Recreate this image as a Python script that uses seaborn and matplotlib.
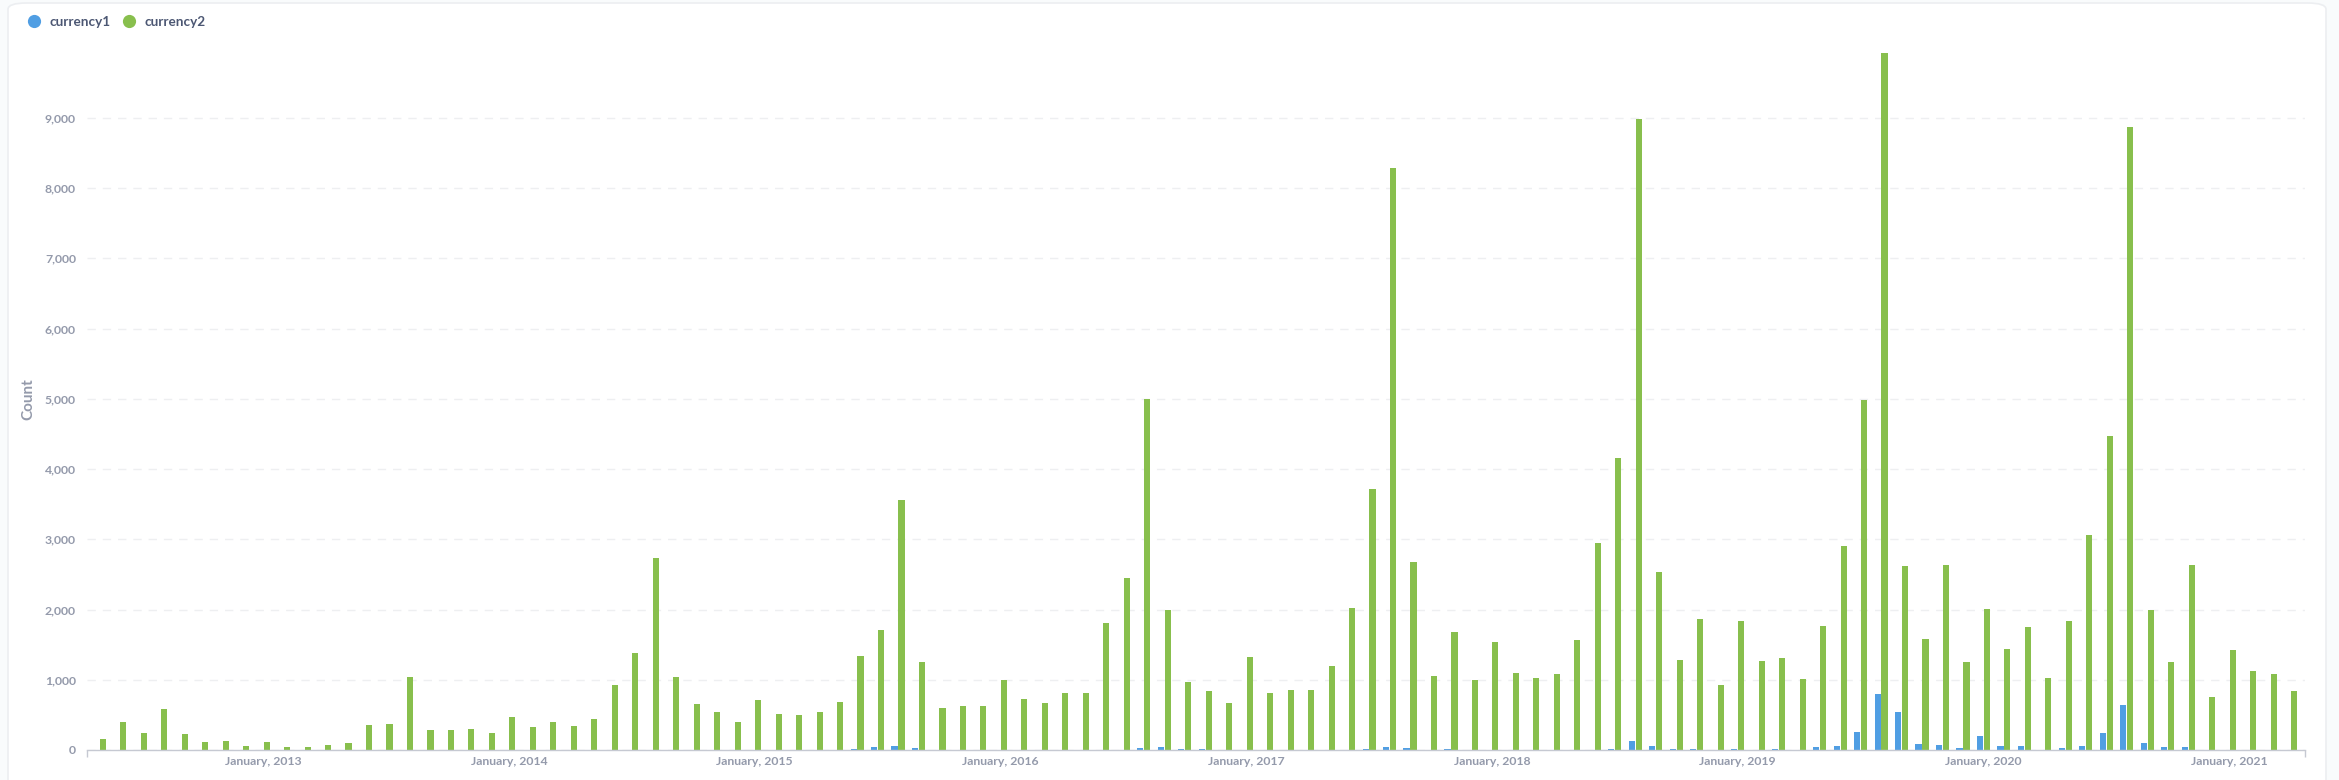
import pandas as pd
import numpy as np
import matplotlib.pyplot as plt
import seaborn as sns
from matplotlib.lines import Line2D
from matplotlib.patches import FancyBboxPatch

# monthly counts, May 2012 .. April 2021
months = pd.date_range('2012-05-01', '2021-04-01', freq='MS')

currency2 = [
    162, 405, 248, 590, 233, 119, 133, 62,
    119, 48, 48, 76, 105, 362, 376, 1033, 290, 290, 305, 248,
    476, 333, 405, 348, 448, 919, 1376, 2740, 1033, 662, 548, 405,
    705, 519, 505, 548, 690, 1333, 1705, 3560, 1248, 605, 633, 633,
    990, 719, 676, 805, 805, 1805, 2450, 5000, 1990, 962, 833, 676,
    1319, 805, 848, 848, 1190, 2019, 3720, 8280, 2670, 1048, 1676, 990,
    1533, 1090, 1019, 1076, 1562, 2940, 4160, 8980, 2530, 1276, 1862, 919,
    1833, 1262, 1305, 1005, 1762, 2900, 4980, 9930, 2620, 1576, 2630, 1248,
    2005, 1433, 1748, 1019, 1833, 3060, 4470, 8870, 1990, 1248, 2630, 748,
    1419, 1119, 1076, 833,
]
currency1 = [
    0, 0, 0, 0, 0, 0, 0, 0,
    0, 0, 0, 0, 0, 0, 0, 0, 0, 0, 0, 0,
    0, 0, 0, 0, 0, 0, 0, 0, 0, 0, 0, 0,
    0, 0, 0, 3, 3, 19, 48, 62, 33, 3, 3, 3,
    3, 3, 3, 3, 3, 3, 3, 33, 48, 19, 10, 3,
    3, 3, 3, 3, 3, 3, 19, 48, 33, 4, 19, 3,
    3, 3, 3, 3, 3, 3, 19, 133, 62, 19, 19, 3,
    19, 3, 19, 3, 48, 62, 262, 800, 540, 90, 76, 33,
    200, 62, 62, 3, 33, 62, 248, 640, 105, 48, 48, 3,
    0, 0, 0, 0,
]
series = ['currency1', 'currency2']
colors = {'currency1': '#509EE3', 'currency2': '#88BF4D'}
y_ticks = list(range(0, 10000, 1000))

df = pd.DataFrame({
    'month': np.tile(months.strftime('%Y-%m'), 2),
    'currency': np.repeat(series, len(months)),
    'count': currency1 + currency2,
})

W, H, DPI = 2339, 780, 100
fig = plt.figure(figsize=(W / DPI, H / DPI), dpi=DPI)
fig.patch.set_facecolor('#f9fbfc')
card = FancyBboxPatch((8 / W, -0.05), 2318 / W, 1.05 - 3 / H,
                      boxstyle='round,pad=0,rounding_size=0.008',
                      transform=fig.transFigure, facecolor='white',
                      edgecolor='#eceef1', linewidth=1.2, zorder=-10)
fig.patches.append(card)

ax = fig.add_axes([87 / W, 1 - 750 / H, (2305 - 87) / W, (750 - 47.6) / H])
ax.set_facecolor('none')

sns.barplot(data=df, x='month', y='count', hue='currency', hue_order=series,
            palette=colors, saturation=1, width=0.68, gap=0.12, linewidth=0,
            errorbar=None, legend=False, ax=ax, zorder=3)

grey = '#949aab'
ax.set_ylim(0, 10000)
ax.set_xlim(-0.6, len(months) - 0.3)
ax.set_yticks(y_ticks, [f'{v:,}' for v in y_ticks])
jan = [i for i, m in enumerate(months) if m.month == 1]
ax.set_xticks(jan, [months[i].strftime('January, %Y') for i in jan])
ax.set_xticks([-0.6, len(months) - 0.3], minor=True)

for t in ax.get_yticklabels() + ax.get_xticklabels():
    t.set_fontfamily('Lato')
    t.set_fontweight('bold')
    t.set_fontsize(8.8)
    t.set_color(grey)
ax.tick_params(axis='y', length=0, pad=8)
ax.tick_params(axis='x', which='major', length=0, pad=4)
ax.tick_params(axis='x', which='minor', length=5, width=1, color='#c6c9d2')

ax.grid(axis='y', linestyle=(0, (6, 5)), color='#eeeff1', linewidth=1, zorder=0)
ax.grid(axis='x', visible=False)
ax.set_axisbelow(True)
for s in ['top', 'right', 'left']:
    ax.spines[s].set_visible(False)
ax.spines['bottom'].set_color('#c6c9d2')
ax.spines['bottom'].set_linewidth(1)
ax.spines['bottom'].set_zorder(4)

ax.set_xlabel('')
ax.set_ylabel('Count', fontfamily='Lato', fontweight='bold', fontsize=11, color=grey)
ax.yaxis.set_label_coords((35 - 87) / (2305 - 87), 0.5)

handles = [Line2D([], [], marker='o', linestyle='', markersize=9.5,
                  markerfacecolor=colors[s], markeredgewidth=0) for s in series]
leg = fig.legend(handles, series, loc='center left',
                 bbox_to_anchor=(27.5 / W, 1 - 22 / H), frameon=False, ncol=2,
                 handlelength=1.0, handletextpad=0.65, columnspacing=0.85,
                 borderaxespad=0, borderpad=0,
                 prop={'family': 'Lato', 'weight': 'bold', 'size': 9.7})
for t in leg.get_texts():
    t.set_color('#4c5773')

fig.savefig('out.png', dpi=DPI, facecolor=fig.get_facecolor())
